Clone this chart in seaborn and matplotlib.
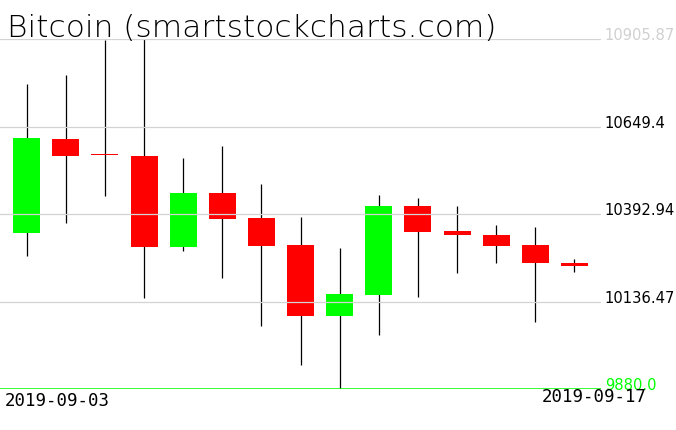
import numpy as np
import pandas as pd
import seaborn as sns
import matplotlib.pyplot as plt
from matplotlib.transforms import blended_transform_factory

# daily candles
dates = pd.date_range('2019-09-03', '2019-09-17', freq='D').strftime('%Y-%m-%d').tolist()
opens = [10339.0, 10613.6, 10568.0, 10563.8, 10298.0, 10455.4, 10382.0, 10303.0,
         10095.7, 10157.3, 10417.3, 10344.0, 10332.3, 10303.0, 10250.0]
closes = [10616.6, 10564.7, 10565.0, 10298.0, 10455.4, 10380.0, 10301.0, 10095.7,
          10159.3, 10417.3, 10342.0, 10333.0, 10301.0, 10251.0, 10242.3]
highs = [10774.0, 10800.3, 10902.0, 10905.87, 10557.0, 10593.0, 10481.7, 10385.0,
         10294.0, 10449.5, 10440.7, 10418.0, 10362.4, 10355.7, 10262.0]
lows = [10271.6, 10368.3, 10447.5, 10148.5, 10286.2, 10207.0, 10066.4, 9952.0,
        9880.0, 10040.0, 10151.4, 10221.8, 10251.0, 10078.0, 10224.7]

price_ticks = [9880.0, 10136.47, 10392.94, 10649.4, 10905.87]
price_labels = ['9880.0', '10136.47', '10392.94', '10649.4', '10905.87']
label_colors = ['#00ff00', 'black', 'black', 'black', '#d0d0d0']

df = pd.DataFrame({'date': dates, 'open': opens, 'close': closes,
                   'high': highs, 'low': lows})
df['x'] = np.arange(len(df))
df['up'] = df['close'] >= df['open']
df['body_lo'] = df[['open', 'close']].min(axis=1)
df['body_h'] = (df['close'] - df['open']).abs()

sns.set_theme(style='white')
plt.rcParams['font.family'] = ['DejaVu Sans']
plt.rcParams['text.color'] = 'black'

fig = plt.figure(figsize=(6.76, 4.31), dpi=100)
ax = fig.add_axes([0.0, 0.0944, 0.8886, 0.8128])

# wicks
ax.vlines(df['x'], df['low'], df['high'], color='black', linewidth=0.9, zorder=2)
# bodies
colors = np.where(df['up'], '#00ff00', '#ff0000')
ax.bar(df['x'], df['body_h'], bottom=df['body_lo'], width=0.69,
       color=colors, linewidth=0, zorder=3)

# horizontal price levels
for val in price_ticks[1:]:
    ax.axhline(val, color='#d3d3d3', linewidth=0.9, zorder=4)
ax.axhline(price_ticks[0], color='#00ff00', linewidth=1.1, zorder=4)

trans = blended_transform_factory(ax.transAxes, ax.transData)
for val, lab, col in zip(price_ticks, price_labels, label_colors):
    ax.text(1.007, val, lab, transform=trans, color=col, fontsize=10.6,
            va='baseline', ha='left', clip_on=False)

ax.set_xlim(-0.68, 14.67)
ax.set_ylim(price_ticks[0], price_ticks[-1])
ax.set_xticks([])
ax.set_yticks([])
for s in ax.spines.values():
    s.set_visible(False)

fig.text(7 / 676, 1 - 37 / 431, 'Bitcoin (smartstockcharts.com)', fontsize=22.5,
         fontweight='light', color='black', va='baseline', ha='left')
fig.text(5 / 676, 1 - 406 / 431, dates[0], fontsize=12.5, family='DejaVu Sans Mono',
         color='black', va='baseline', ha='left')
fig.text(647 / 676, 1 - 402 / 431, dates[-1], fontsize=12.5, family='DejaVu Sans Mono',
         color='black', va='baseline', ha='right')

fig.savefig('out.png', dpi=100)
